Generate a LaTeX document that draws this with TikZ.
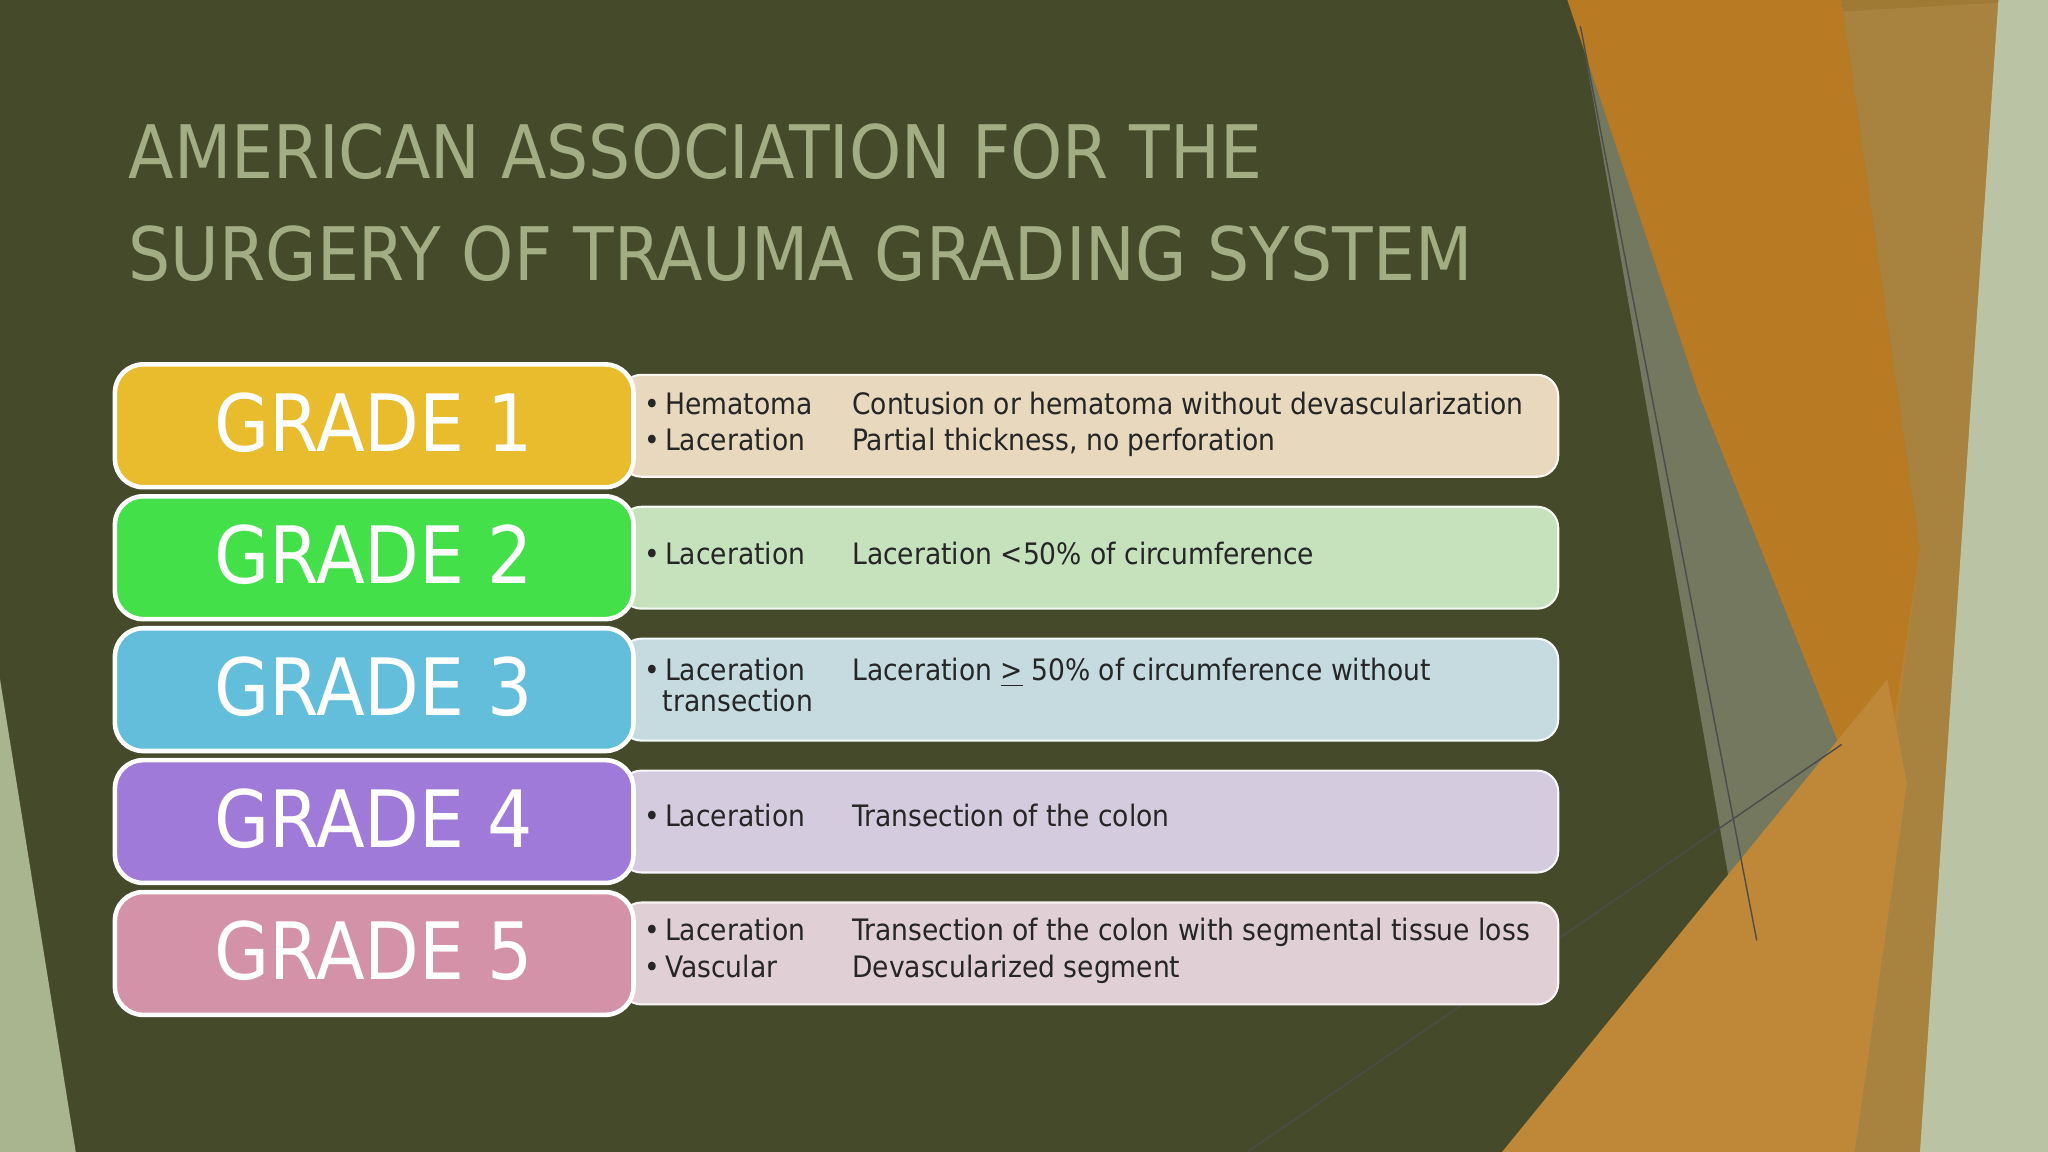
\documentclass[tikz,border=0pt]{standalone}
\usepackage{fontspec}
\setmainfont{DejaVu Sans Condensed}
\begin{document}
\begin{tikzpicture}[x=0.0130612cm,y=-0.0130612cm]
\definecolor{bg}{HTML}{454B2A}
\definecolor{ttl}{HTML}{A3AD84}
\definecolor{org}{HTML}{B87A22}
\definecolor{sage}{HTML}{A9B58E}
\tikzset{
 det/.style={rounded corners=6pt},
 txt/.style={anchor=base west,inner sep=0,yshift=-0.08cm,font=\fontsize{8.4}{10}\selectfont,text=black!85},
}
\fill[bg] (0,0) rectangle (1568,882);
\useasboundingbox (0,0) rectangle (1568,882);
% decoration
\fill[white!50!bg,opacity=0.5] (1210,20) -- (1568,0) -- (1568,882) -- (1360,882) -- cycle;
\fill[org] (1200,0) -- (1410,0) -- (1470,420) -- (1440,650) -- (1300,300) -- cycle;
\fill[org!80!sage,opacity=0.8] (1410,0) -- (1530,0) -- (1480,882) -- (1400,882) -- (1470,420) -- cycle;
\fill[org!90!white] (1150,882) -- (1445,520) -- (1460,600) -- (1420,882) -- cycle;
\fill[sage!80!white] (1530,0) -- (1568,0) -- (1568,882) -- (1470,882) -- cycle;
\fill[sage] (0,520) -- (58,882) -- (0,882) -- cycle;
\draw[black!70,line width=0.4pt] (1210,20) -- (1345,720);
\draw[black!70,line width=0.4pt] (955,882) -- (1410,570);
% title
\node[anchor=west,inner sep=0,text=ttl,font=\fontsize{21}{29}\selectfont,align=left] (title) at (98,155)
 {AMERICAN ASSOCIATION FOR THE\\SURGERY OF TRAUMA GRADING SYSTEM};
% rows
\foreach \i/\gc/\dc in {0/E8BC2C/E8D9BE,1/44E04A/C6E2BC,2/62BEDB/C5DBE0,3/A07AD8/D4CCDE,4/D492A8/E0CFD4}{
 \definecolor{gcol}{HTML}{\gc}\definecolor{dcol}{HTML}{\dc}
 \pgfmathsetmacro\yt{287+101*\i}
 \fill[dcol,draw=white!80!dcol,line width=0.6pt,det] (475,\yt) rectangle (1193,\yt+78);
 \pgfmathsetmacro\gt{279+101*\i}
 \path[fill=gcol,draw=white,line width=1.3pt,rounded corners=8pt] (88,\gt) rectangle (485,\gt+94);
 \pgfmathtruncatemacro\n{\i+1}
 \node[text=white,font=\fontsize{22.5}{26}\selectfont] (g\n) at (286,\gt+45) {GRADE \n};
}
% texts
\node[txt] (a1) at (493,311) {•\,Hematoma};
\node[txt] (b1) at (652,311) {Contusion or hematoma without devascularization};
\node[txt] (a2) at (493,339) {•\,Laceration};
\node[txt] (b2) at (652,339) {Partial thickness, no perforation};
\node[txt] (a3) at (493,426) {•\,Laceration};
\node[txt] (b3) at (652,426) {Laceration <50\% of circumference};
\node[txt] (a4) at (493,515) {•\,Laceration};
\node[txt] (b4) at (652,515) {Laceration \underline{>} 50\% of circumference without};
\node[txt] (a5) at (507,539) {transection};
\node[txt] (a6) at (493,627) {•\,Laceration};
\node[txt] (b6) at (652,627) {Transection of the colon};
\node[txt] (a7) at (493,714) {•\,Laceration};
\node[txt] (b7) at (652,714) {Transection of the colon with segmental tissue loss};
\node[txt] (a8) at (493,742) {•\,Vascular};
\node[txt] (b8) at (652,742) {Devascularized segment};
\end{tikzpicture}
\end{document}
